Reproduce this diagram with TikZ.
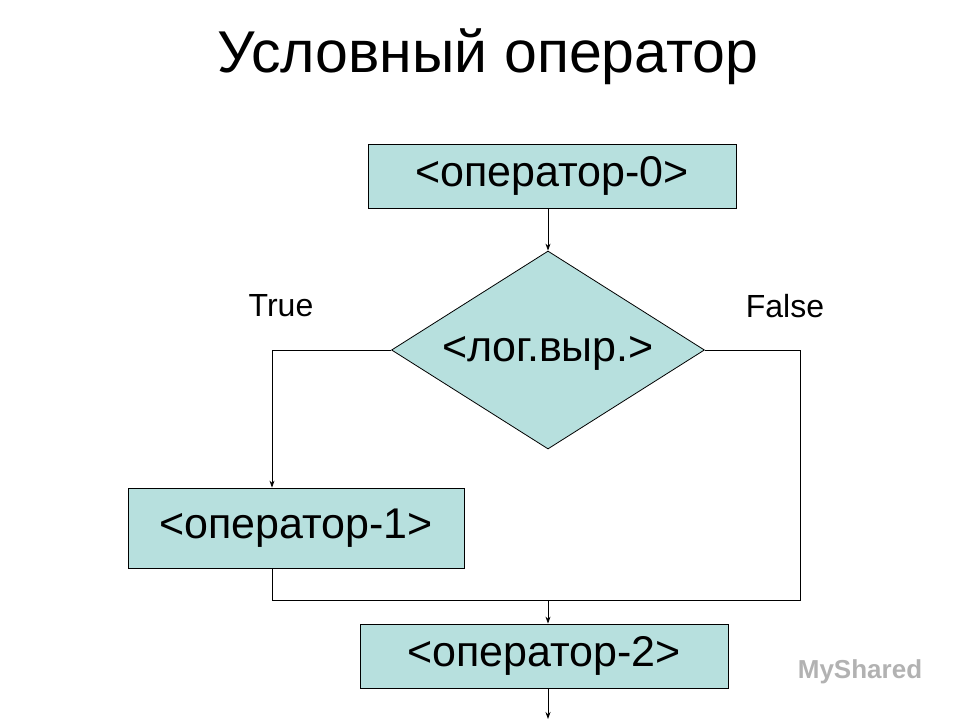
\documentclass[tikz,border=0pt]{standalone}
\usepackage{fontspec}
\setmainfont{Liberation Sans}
\usetikzlibrary{shapes.geometric,arrows.meta}
\definecolor{boxfill}{RGB}{183,224,222}
\begin{document}
\begin{tikzpicture}[x=1pt,y=-1pt,
  blk/.style={draw=black,fill=boxfill,line width=0.8pt,minimum width=#1,inner sep=0pt},
  con/.style={line width=0.8pt},
  arr/.style={con,-{Stealth[length=7pt,width=5pt]}},
  txt/.style={font=\fontsize{43}{48}\selectfont}]
\useasboundingbox (0,0) rectangle (960,720);
\node[font=\fontsize{59}{66}\selectfont] (title) at (488,57) {Условный оператор};
\node[blk=368pt,minimum height=64pt,txt] (op0) at (552,176) {\raisebox{-4pt}{<оператор-0>}};
\node[draw=black,fill=boxfill,line width=0.8pt,diamond,minimum width=313pt,minimum height=198pt,inner sep=0pt,aspect=1.58] (cond) at (548,350) {};
\node[txt] (condt) at (548,353) {<лог.выр.>};
\node[blk=336pt,minimum height=80pt,txt] (op1) at (296,528) {\raisebox{-4pt}{<оператор-1>}};
\node[blk=368pt,minimum height=64pt,txt] (op2) at (544,656) {\raisebox{-4pt}{<оператор-2>}};
\node[font=\fontsize{32}{36}\selectfont] (t) at (281,306) {True};
\node[font=\fontsize{32}{36}\selectfont] (f) at (785,306) {False};
\node[text=gray!60,font=\fontsize{26}{30}\selectfont\bfseries] (wm) at (860,672) {MyShared};
\coordinate (l) at (272,350);
\coordinate (r) at (800,350);
\coordinate (rb) at (800,600);
\coordinate (lb) at (272,600);
\coordinate (m) at (548,600);
\coordinate (end) at (548,719);
\draw[arr] (cond.north |- op0.south) -- (cond.north);
\draw[con] (cond.west) -- (l);
\draw[arr] (l) -- (l |- op1.north);
\draw[con] (cond.east) -- (r) -- (rb) -- (lb) -- (l |- op1.south);
\draw[arr] (m) -- (m |- op2.north);
\draw[arr] (m |- op2.south) -- (end);
\end{tikzpicture}
\end{document}
